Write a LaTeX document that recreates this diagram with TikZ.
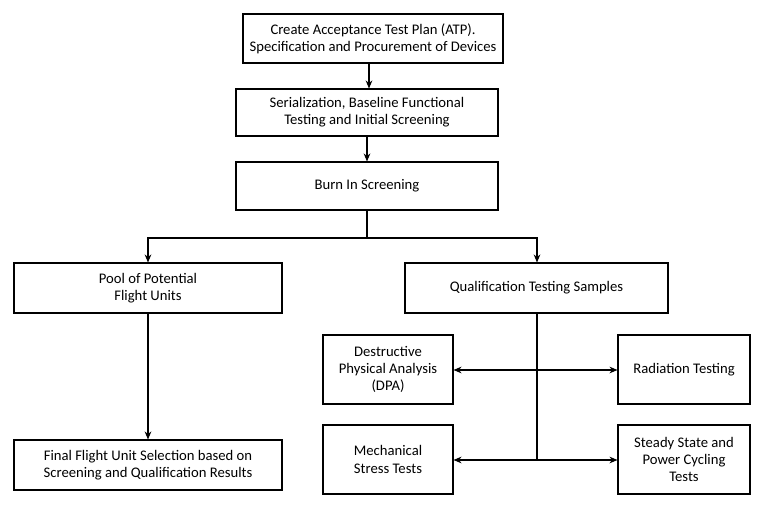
\documentclass[tikz,border=0pt]{standalone}
\usepackage{fontspec}
\setmainfont{Carlito}
\usetikzlibrary{arrows.meta}
\begin{document}
\begin{tikzpicture}[x=0.75pt,y=-0.75pt,
 box/.style={draw,line width=0.8pt,align=center,font=\fontsize{11}{13}\selectfont},
 arr/.style={-{Stealth[length=6pt,width=5pt]},line width=0.8pt},
 ln/.style={line width=0.8pt}]
\useasboundingbox (0,0) rectangle (768,509);
\newcommand{\bx}[6]{\node[box,minimum width={(#4-#2)*0.75pt},minimum height={(#5-#3)*0.75pt}] (#1) at ({(#2+#4)/2},{(#3+#5)/2}) {#6};}
\bx{a}{243}{14}{503}{63}{Create Acceptance Test Plan (ATP).\\Specification and Procurement of Devices}
\bx{b}{236}{89}{498}{136}{Serialization, Baseline Functional\\Testing and Initial Screening}
\bx{c}{236}{162}{498}{210}{Burn In Screening}
\bx{p}{14}{263}{282}{313}{Pool of Potential\\Flight Units}
\bx{q}{405}{263}{668}{313}{Qualification Testing Samples}
\bx{d}{323}{335}{453}{404}{Destructive\\Physical Analysis\\(DPA)}
\bx{r}{618}{335}{750}{404}{Radiation Testing}
\bx{m}{323}{425}{453}{494}{Mechanical\\Stress Tests}
\bx{s}{618}{425}{750}{494}{Steady State and\\Power Cycling\\Tests}
\bx{f}{14}{440}{282}{490}{Final Flight Unit Selection based on\\Screening and Qualification Results}
\coordinate (x1) at (369,0);
\coordinate (x2) at (367,0);
\draw[arr] (x1|-a.south) -- (x1|-b.north);
\draw[arr] (x2|-b.south) -- (x2|-c.north);
\coordinate (j) at (367,238);
\coordinate (jl) at (148,238);
\coordinate (jr) at (537,238);
\draw[ln] (j|-c.south) -- (j);
\draw[arr] (j) -- (jl) -- (jl|-p.north);
\draw[arr] (j) -- (jr) -- (jr|-q.north);
\draw[arr] (jl|-p.south) -- (jl|-f.north);
\coordinate (v1) at (537,370);
\coordinate (v2) at (537,460);
\draw[ln] (jr|-q.south) -- (v2);
\draw[arr] (v1) -- (d.east|-v1);
\draw[arr] (v1) -- (r.west|-v1);
\draw[arr] (v2) -- (m.east|-v2);
\draw[arr] (v2) -- (s.west|-v2);
\end{tikzpicture}
\end{document}
